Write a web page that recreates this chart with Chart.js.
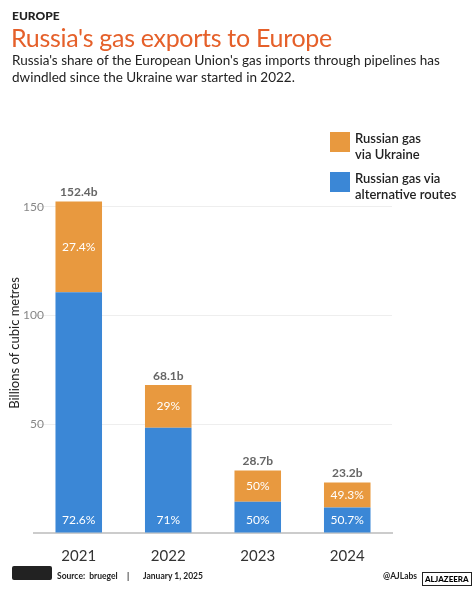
<!DOCTYPE html>
<html>
<head>
<script src="https://cdn.jsdelivr.net/npm/chart.js@4"></script>
<style>
body { margin:0; width:474px; height:592px; overflow:hidden; background:#fff; font-family: Lato, "Open Sans", sans-serif; position:relative; }
#wrap { position:absolute; left:0; top:0; width:474px; height:592px; }
.kick { position:absolute; left:12px; top:8px; font-size:12px; font-weight:900; color:#222; }
.title { position:absolute; left:11px; top:22px; font-size:25px; color:#E5602A; letter-spacing:-0.3px; }
.sub { position:absolute; left:12px; top:52px; font-size:13.5px; color:#222; line-height:17px; width:460px; }
.leg { position:absolute; left:330px; font-size:13px; color:#222; line-height:16px; font-weight:600; }
.leg i { position:absolute; left:0; top:2px; width:20px; height:20px; }
.leg span { position:absolute; left:25px; width:140px; }
.ytitle { position:absolute; left:-56px; top:335px; width:140px; text-align:center; transform:rotate(-90deg); font-size:13px; color:#222; }
.foot { position:absolute; top:571px; font-size:8.5px; color:#222; font-weight:700; }
.cc { position:absolute; left:12px; top:566px; width:40px; height:14px; background:#222; border-radius:2px; }
.aj { position:absolute; left:422px; top:572px; border:1px solid #222; font-size:8px; font-weight:900; padding:1px 2px; }
</style>
</head>
<body>
<div id="wrap"><canvas id="c" width="474" height="592"></canvas></div>
<div class="kick">EUROPE</div>
<div class="title">Russia's gas exports to Europe</div>
<div class="sub">Russia's share of the European Union's gas imports through pipelines has dwindled since the Ukraine war started in 2022.</div>
<div class="leg" style="top:130px"><i style="background:#E8993F"></i><span>Russian gas<br>via Ukraine</span></div>
<div class="leg" style="top:170px"><i style="background:#3B87D6"></i><span>Russian gas via<br>alternative routes</span></div>
<div class="ytitle">Billions of cubic metres</div>
<div class="cc"></div>
<div class="foot" style="left:57px">Source:&nbsp; bruegel</div>
<div class="foot" style="left:127px">|</div>
<div class="foot" style="left:143px">January 1, 2025</div>
<div class="foot" style="left:383px">@AJLabs</div>
<div class="aj">ALJAZEERA</div>
<script>
const years = ['2021', '2022', '2023', '2024'];
const totals = [152.4, 68.1, 28.7, 23.2];
const ukraineShare = [27.4, 29, 50, 49.3];
const altShare = [72.6, 71, 50, 50.7];
const ukraineLabels = ['27.4%', '29%', '50%', '49.3%'];
const altLabels = ['72.6%', '71%', '50%', '50.7%'];
const totalLabels = ['152.4b', '68.1b', '28.7b', '23.2b'];
const yTicks = [50, 100, 150];

const altVals = totals.map((t, i) => t * altShare[i] / 100);
const ukrVals = totals.map((t, i) => t * ukraineShare[i] / 100);

const labelPlugin = {
  id: 'labels',
  afterDatasetsDraw(chart) {
    const ctx = chart.ctx;
    const y = chart.scales.y;
    const m0 = chart.getDatasetMeta(0), m1 = chart.getDatasetMeta(1);
    ctx.save();
    ctx.textBaseline = 'middle';
    // y tick labels (drawn by hand so they can sit past the axis edge)
    ctx.textAlign = 'right';
    ctx.fillStyle = '#888';
    ctx.font = '12px Lato';
    yTicks.forEach(v => ctx.fillText(String(v), 44, y.getPixelForValue(v)));
    ctx.textAlign = 'center';
    years.forEach((_, i) => {
      const x = m0.data[i].x;
      ctx.fillStyle = '#fff';
      ctx.font = '12px Lato';
      ctx.fillText(altLabels[i], x, y.getPixelForValue(0) - 13);
      const top = m1.data[i].y, bot = m1.data[i].base;
      ctx.fillText(ukraineLabels[i], x, (top + bot) / 2);
      ctx.fillStyle = '#666';
      ctx.font = 'bold 12px Lato';
      ctx.fillText(totalLabels[i], x, top - 9);
    });
    ctx.restore();
  }
};

new Chart(document.getElementById('c'), {
  type: 'bar',
  data: {
    labels: years,
    datasets: [
      { label: 'Russian gas via alternative routes', data: altVals, backgroundColor: '#3B87D6', categoryPercentage: 1, barPercentage: 0.52 },
      { label: 'Russian gas via Ukraine', data: ukrVals, backgroundColor: '#E8993F', categoryPercentage: 1, barPercentage: 0.52 }
    ]
  },
  options: {
    responsive: false,
    animation: false,
    devicePixelRatio: 1,
    layout: { padding: { left: 0, right: 82, top: 185, bottom: 0 } },
    plugins: { legend: { display: false }, tooltip: { enabled: false } },
    scales: {
      x: {
        stacked: true,
        grid: { display: false },
        border: { color: '#ccc', width: 2 },
        ticks: { color: '#333', font: { family: 'Lato', size: 15 }, padding: 6 },
        afterFit: s => { s.height = 59; }
      },
      y: {
        stacked: true,
        min: 0, max: 160,
        border: { display: false },
        grid: { color: c => yTicks.includes(c.tick.value) ? '#eee' : 'transparent', drawTicks: false },
        ticks: { stepSize: 50, display: false },
        afterFit: s => { s.width = 34; }
      }
    }
  },
  plugins: [labelPlugin]
});
</script>
</body>
</html>
